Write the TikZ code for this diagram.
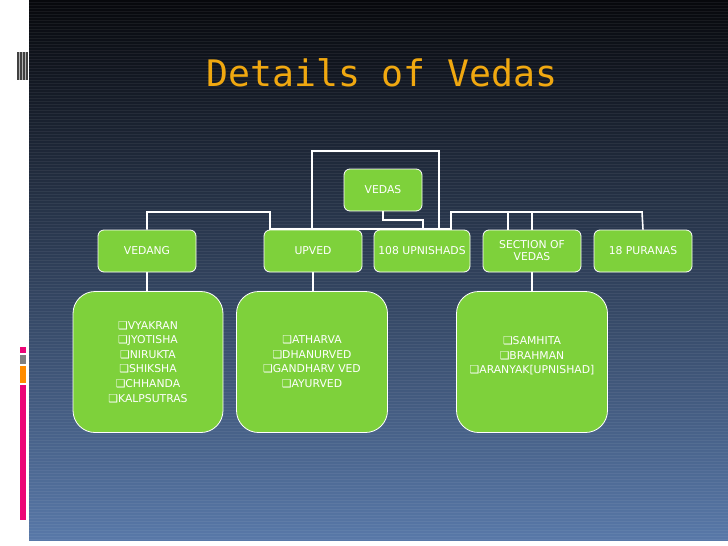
\documentclass[tikz,border=0pt]{standalone}
\usepackage{fontspec}
\setmainfont{DejaVu Sans}
\newfontfamily\titlefont{DejaVu Sans Mono}
\begin{document}
\begin{tikzpicture}[x=1pt,y=-1pt,
  box/.style={draw=white,line width=0.8pt,fill=boxgreen,rounded corners=6pt,align=center,text=white,font=\fontsize{10.8}{12}\selectfont,inner sep=0pt},
  bigbox/.style={draw=white,line width=0.8pt,fill=boxgreen,rounded corners=22pt,align=center,text=white,font=\fontsize{10.8}{14.6}\selectfont,inner sep=0pt},
  conn/.style={draw=white,line width=1.6pt}]
\definecolor{boxgreen}{HTML}{7ED13B}
\definecolor{bgtop}{HTML}{07080C}
\definecolor{bgbot}{HTML}{5878A8}
\definecolor{titleorange}{HTML}{F0A810}
\useasboundingbox (0,0) rectangle (728,546);
\fill[white] (0,0) rectangle (728,546);
\shade[top color=bgtop,bottom color=bgbot] (29,0) rectangle (728,540);
\foreach \yy in {2,5,...,540} \draw[white,opacity=0.06,line width=0.6pt] (29,\yy) -- (728,\yy);
% left decorations
\fill[black!75] (17,52) rectangle (28,80);
\foreach \xx in {19,22,25} \fill[white!70!black] (\xx,52) rectangle ++(1.2,28);
\fill[magenta!80!red] (20,347) rectangle (26,353);
\fill[gray] (20,355) rectangle (26,364);
\fill[orange!90!yellow] (20,366) rectangle (26,383);
\fill[magenta!80!red] (20,385) rectangle (26,520);
\node[text=titleorange,font=\titlefont\fontsize{36.5}{40}\selectfont] (title) at (382,73) {Details of Vedas};
% top nodes
\node[box,minimum width=78pt,minimum height=42pt] (vedas) at (383,190) {VEDAS};
\node[box,minimum width=98pt,minimum height=42pt] (vedang) at (147,251) {VEDANG};
\node[box,minimum width=98pt,minimum height=42pt] (upved) at (313,251) {UPVED};
\node[box,minimum width=96pt,minimum height=42pt] (upni) at (422,251) {108 UPNISHADS};
\node[box,minimum width=98pt,minimum height=42pt] (sect) at (532,251) {SECTION OF\\VEDAS};
\node[box,minimum width=98pt,minimum height=42pt] (pur) at (643,251) {18 PURANAS};
% bottom boxes
\node[bigbox,minimum width=150pt,minimum height=141pt] (b1) at (148,362) {❑VYAKRAN\\❑JYOTISHA\\❑NIRUKTA\\❑SHIKSHA\\❑CHHANDA\\❑KALPSUTRAS};
\node[bigbox,minimum width=151pt,minimum height=141pt] (b2) at (312,362) {❑ATHARVA\\❑DHANURVED\\❑GANDHARV VED\\❑AYURVED};
\node[bigbox,minimum width=151pt,minimum height=141pt] (b3) at (532,362) {❑SAMHITA\\❑BRAHMAN\\❑ARANYAK[UPNISHAD]\\[-0.6pt]};
% connectors
\coordinate (l1) at (312,151); \coordinate (l2) at (439,151);
\draw[conn] (312,230) -- (l1) -- (l2) -- (439,230);
\draw[conn] (vedang.north) -- (147,212) -- (270,212) -- (270,229) -- (451,229) -- (451,212) -- (642,212) -- (pur.north);
\draw[conn] (vedas.south) -- (383,220) -- (423,220) -- (423,229);
\draw[conn] (508,212) -- (508,230);
\draw[conn] (532,212) -- (sect.north);
\draw[conn] (vedang.south) -- (b1.north -| vedang.south);
\draw[conn] (upved.south) -- (b2.north -| upved.south);
\draw[conn] (sect.south) -- (b3.north -| sect.south);
\end{tikzpicture}
\end{document}
